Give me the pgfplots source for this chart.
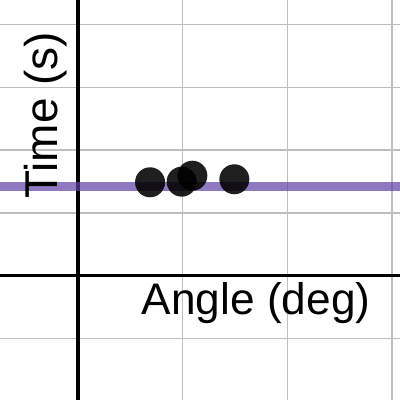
\documentclass[border=0pt]{standalone}
\usepackage{fontspec}
\setmainfont{Liberation Sans}
\usepackage{pgfplots}
\pgfplotsset{compat=1.18}

\definecolor{dgrid}{RGB}{190,190,190}
\definecolor{dpurple}{RGB}{96,66,166}

\begin{document}
\begin{tikzpicture}
\begin{axis}[
  name=ax,
  scale only axis,
  width=400pt, height=400pt,
  xmin=-7.45, xmax=30.75,
  ymin=-1.98, ymax=4.39,
  axis lines=middle,
  axis line style={line width=3.6pt, black, -},
  xtick={10,20,30}, ytick={-1,1,2,3,4},
  xticklabels={}, yticklabels={},
  major tick length=0pt,
  grid=major,
  major grid style={line width=1.4pt, dgrid},
  clip=true,
]
  % measured points
  \addplot[only marks, mark=*, mark size=15pt, black, fill opacity=0.88, draw opacity=0, mark options={fill=black}]
    coordinates {(6.88,1.487) (9.90,1.497) (10.92,1.592) (14.93,1.535)};
  % fitted line
  \addplot[dpurple, opacity=0.7, line width=9pt]
    coordinates {(-7.45,1.424) (30.75,1.424)};

  \node[anchor=base west, inner sep=0pt, font=\fontsize{44.2}{50}\selectfont] at (axis cs:6.08,-0.626) {Angle (deg)};
  \node[anchor=base west, inner sep=0pt, rotate=90, font=\fontsize{46}{52}\selectfont] at (axis cs:-2.0,1.22) {Time (s)};
\end{axis}
\pgfresetboundingbox
\useasboundingbox (ax.south west) rectangle (ax.north east);
\end{tikzpicture}
\end{document}
